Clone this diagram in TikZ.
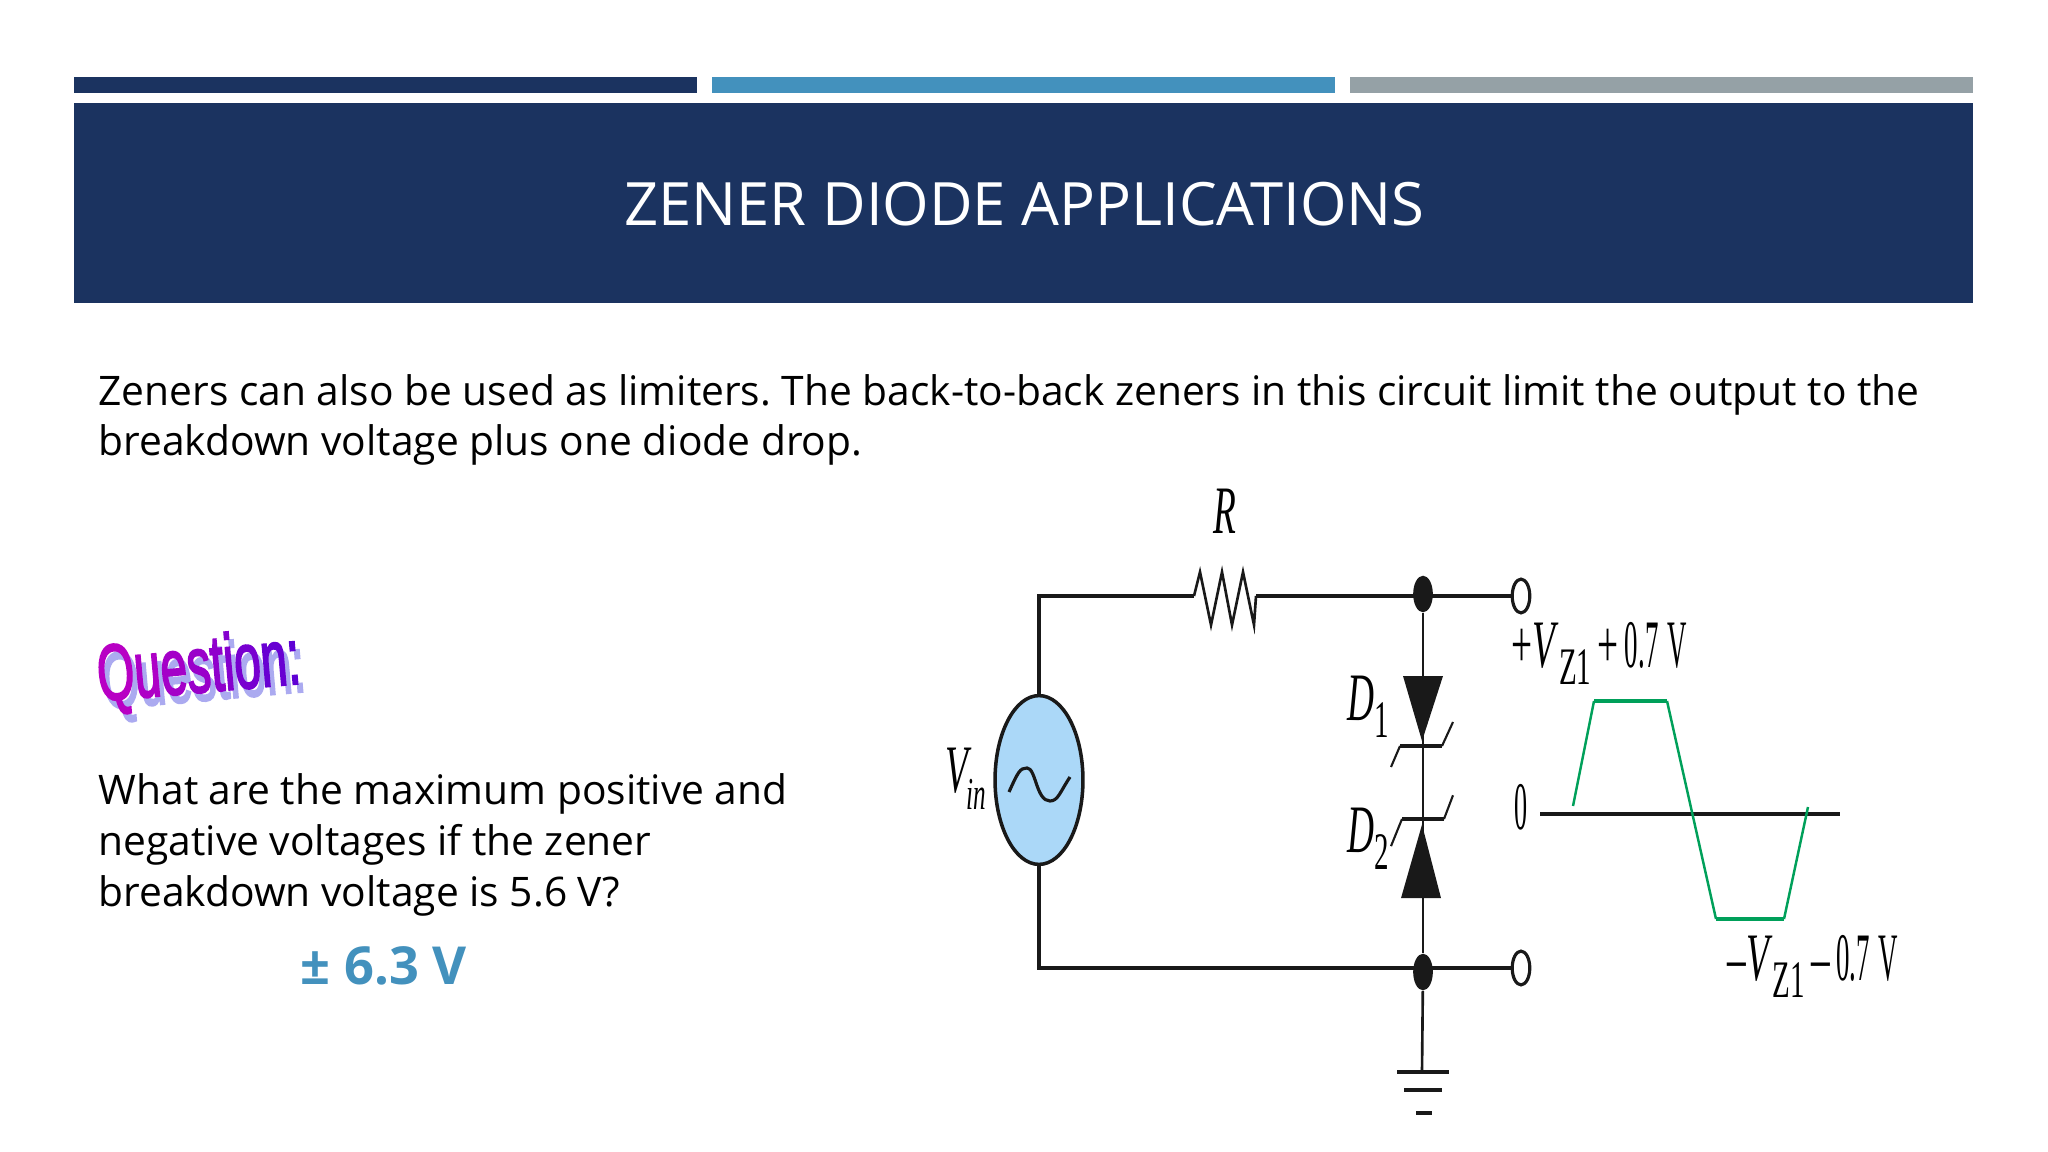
\documentclass[tikz,border=0pt]{standalone}
\usepackage{fontspec}
\usepackage{graphicx}
\setmainfont{Open Sans}
\newfontfamily\circfont{Liberation Serif}
\newfontfamily\wordfont[FakeBold=3]{Liberation Sans}
\usetikzlibrary{shapes.geometric}
\definecolor{navy}{HTML}{1B3360}
\definecolor{midblue}{HTML}{4391BD}
\definecolor{barGrey}{HTML}{95A1A6}
\definecolor{srcblue}{HTML}{ABD8F8}
\definecolor{wavegreen}{HTML}{00A05A}
\definecolor{wordshadow}{HTML}{ABAAF0}
% narrow letters of the circuit labels
\newcommand{\nar}[1]{\scalebox{.55}[1]{\circfont\fontsize{19.3}{20}\selectfont #1}}
\newcommand{\subs}[2][15]{\raisebox{-5pt}{\fontsize{#1}{16}\selectfont #2}}
\newcommand{\slim}[1]{\scalebox{.72}[1]{#1}}
\frenchspacing
\tikzset{
  x=.01cm, y=-.01cm,
  bar/.style={fill=#1, draw=none},
  para/.style={anchor=base west, align=left, inner sep=0pt, font=\fontsize{11.58}{14.5}\selectfont},
  wire/.style={draw=black!90, line width=1.2pt},
  lead/.style={draw=black!90, line width=.75pt},
  dot/.style={ellipse, fill=black!90, inner sep=0pt, minimum width=5.6pt, minimum height=10.4pt},
  term/.style={ellipse, draw=black!90, fill=white, line width=.9pt, inner sep=0pt, minimum width=5pt, minimum height=9.6pt},
  source/.style={ellipse, draw=black!90, fill=srcblue, line width=1pt, inner sep=0pt, minimum width=25pt, minimum height=48pt},
  cirlabel/.style={inner sep=0pt, anchor=base west},
  wave/.style={draw=wavegreen, line width=.7pt},
  zener/.pic={
    \fill[black!90] (-19,-70) -- (21,-70) -- (0,-5) -- cycle;
    \draw[line width=1pt, black!90] (-22,0) -- (20,0);
    \draw[line width=.6pt, black!90] (-31,21) -- (-22,0);
    \draw[line width=.6pt, black!90] (20,0) -- (31,-24);
  }
}
\begin{document}
\begin{tikzpicture}
\useasboundingbox (0,0) rectangle (2048,1152);
\fill[white] (0,0) rectangle (2048,1152);
% header
\fill[bar=navy] (74,77) rectangle (697,93);
\fill[bar=midblue] (712,77) rectangle (1335,93);
\fill[bar=barGrey] (1350,77) rectangle (1973,93);
\fill[bar=navy] (74,103) rectangle (1973,303);
\node[text=white, inner sep=0pt, font=\fontsize{17}{20}\selectfont] (title) at (1024.5,204) {ZENER DIODE APPLICATIONS};
% text
\node[para] (intro) at (98,456) {Zeners can also be used as limiters. The back-to-back zeners in this circuit limit the output to the\\breakdown voltage plus one diode drop.};
\node[para] (ask) at (98,906) {What are the maximum positive and\\negative voltages if the zener\\breakdown voltage is 5.6 V?};
\node[anchor=base west, inner sep=0pt, text=midblue, font=\bfseries\fontsize{14.9}{16}\selectfont] (answer) at (300,984) {± 6.3 V};
% word art
\node[rotate=5, inner sep=0pt, text=wordshadow] (qshadow) at (204,679) {\scalebox{.6}[1]{\wordfont\fontsize{22.5}{24}\selectfont Question:}};
\node[rotate=5, inner sep=0pt] (question) at (199,671) {\scalebox{.6}[1]{\wordfont\fontsize{22.5}{24}\selectfont
  \textcolor[HTML]{B800C4}{Q}\textcolor[HTML]{AE00C6}{u}\textcolor[HTML]{A400C8}{e}\textcolor[HTML]{9A00CA}{s}\textcolor[HTML]{9000CC}{t}\textcolor[HTML]{8400CE}{i}\textcolor[HTML]{7800D0}{o}\textcolor[HTML]{6800D2}{n}\textcolor[HTML]{5E00D4}{:}}};
% circuit
\node[source] (src) at (1039,780) {};
\node[dot] (topdot) at (1423,594) {};
\node[dot] (botdot) at (1423,972) {};
\node[term] (topterm) at (1521,596) {};
\node[term] (botterm) at (1521,968) {};
\coordinate (resl) at (1194,596);
\coordinate (resr) at (1256,596);
\coordinate (gnd) at (1422,1072);
\draw[wire] (topdot.center |- resr) -- (resr);
\draw[wire] (topdot.center |- topterm) -- (topterm);
\draw[wire] (botdot.center |- botterm) -- (botterm);
\draw[wire] (resl) -| (src.north);
\draw[wire] (src.south) |- (botdot.center |- botterm);
\draw[lead] (resl) -- ++(6,-24) -- ++(11,53) -- ++(11,-53) -- ++(10,53) -- ++(11,-53) -- ++(11,53) -- (resr);
\draw[lead] (topdot) -- (botdot);
\draw[lead] (botdot) -- (gnd);
\pic at (1422,746) {zener};
\pic[rotate=180, yscale=1.13] at (1422,819) {zener};
\draw[wire] (1397,1072) -- (1449,1072);
\draw[wire] (1404,1090) -- (1442,1090);
\draw[wire] (1416,1113) -- (1432,1113);
\draw[lead, line width=.9pt] (1009,792) .. controls (1018,772) and (1020,768) .. (1027,768) .. controls (1036,768) and (1036,801) .. (1050,801) .. controls (1058,801) and (1060,792) .. (1070,777);
% labels
\node[cirlabel] (rlabel) at (1213,534) {\nar{\textit{R}}};
\node[cirlabel] (vin) at (945,792) {\nar{\textit{V}\kern-3pt\subs[13]{\textit{in}}}};
\node[cirlabel] (done) at (1347,720) {\nar{\textit{D}\subs{1}}};
\node[cirlabel] (dtwo) at (1347,852) {\nar{\textit{D}\subs{2}}};
\node[cirlabel] (zero) at (1514,829) {\nar{\scalebox{.7}[1]{0}}};
\node[cirlabel] (vplus) at (1511,667) {\nar{+\textit{V}\subs{Z1}\,+\,\slim{0.7\,\,V}}};
\node[cirlabel] (vminus) at (1727,980) {\nar{–\textit{V}\subs{Z1}\,–\,\slim{0.7\,\,V}}};
% output wave
\draw[lead, line width=1.2pt] (1540,814) -- (1840,814);
\draw[wave] (1573,806) -- (1594,701);
\draw[wave, line width=1.4pt] (1594,701) -- (1667,701);
\draw[wave] (1667,701) -- (1716,919);
\draw[wave, line width=1.4pt] (1716,919) -- (1784,919);
\draw[wave] (1784,919) -- (1808,807);
\end{tikzpicture}
\end{document}
